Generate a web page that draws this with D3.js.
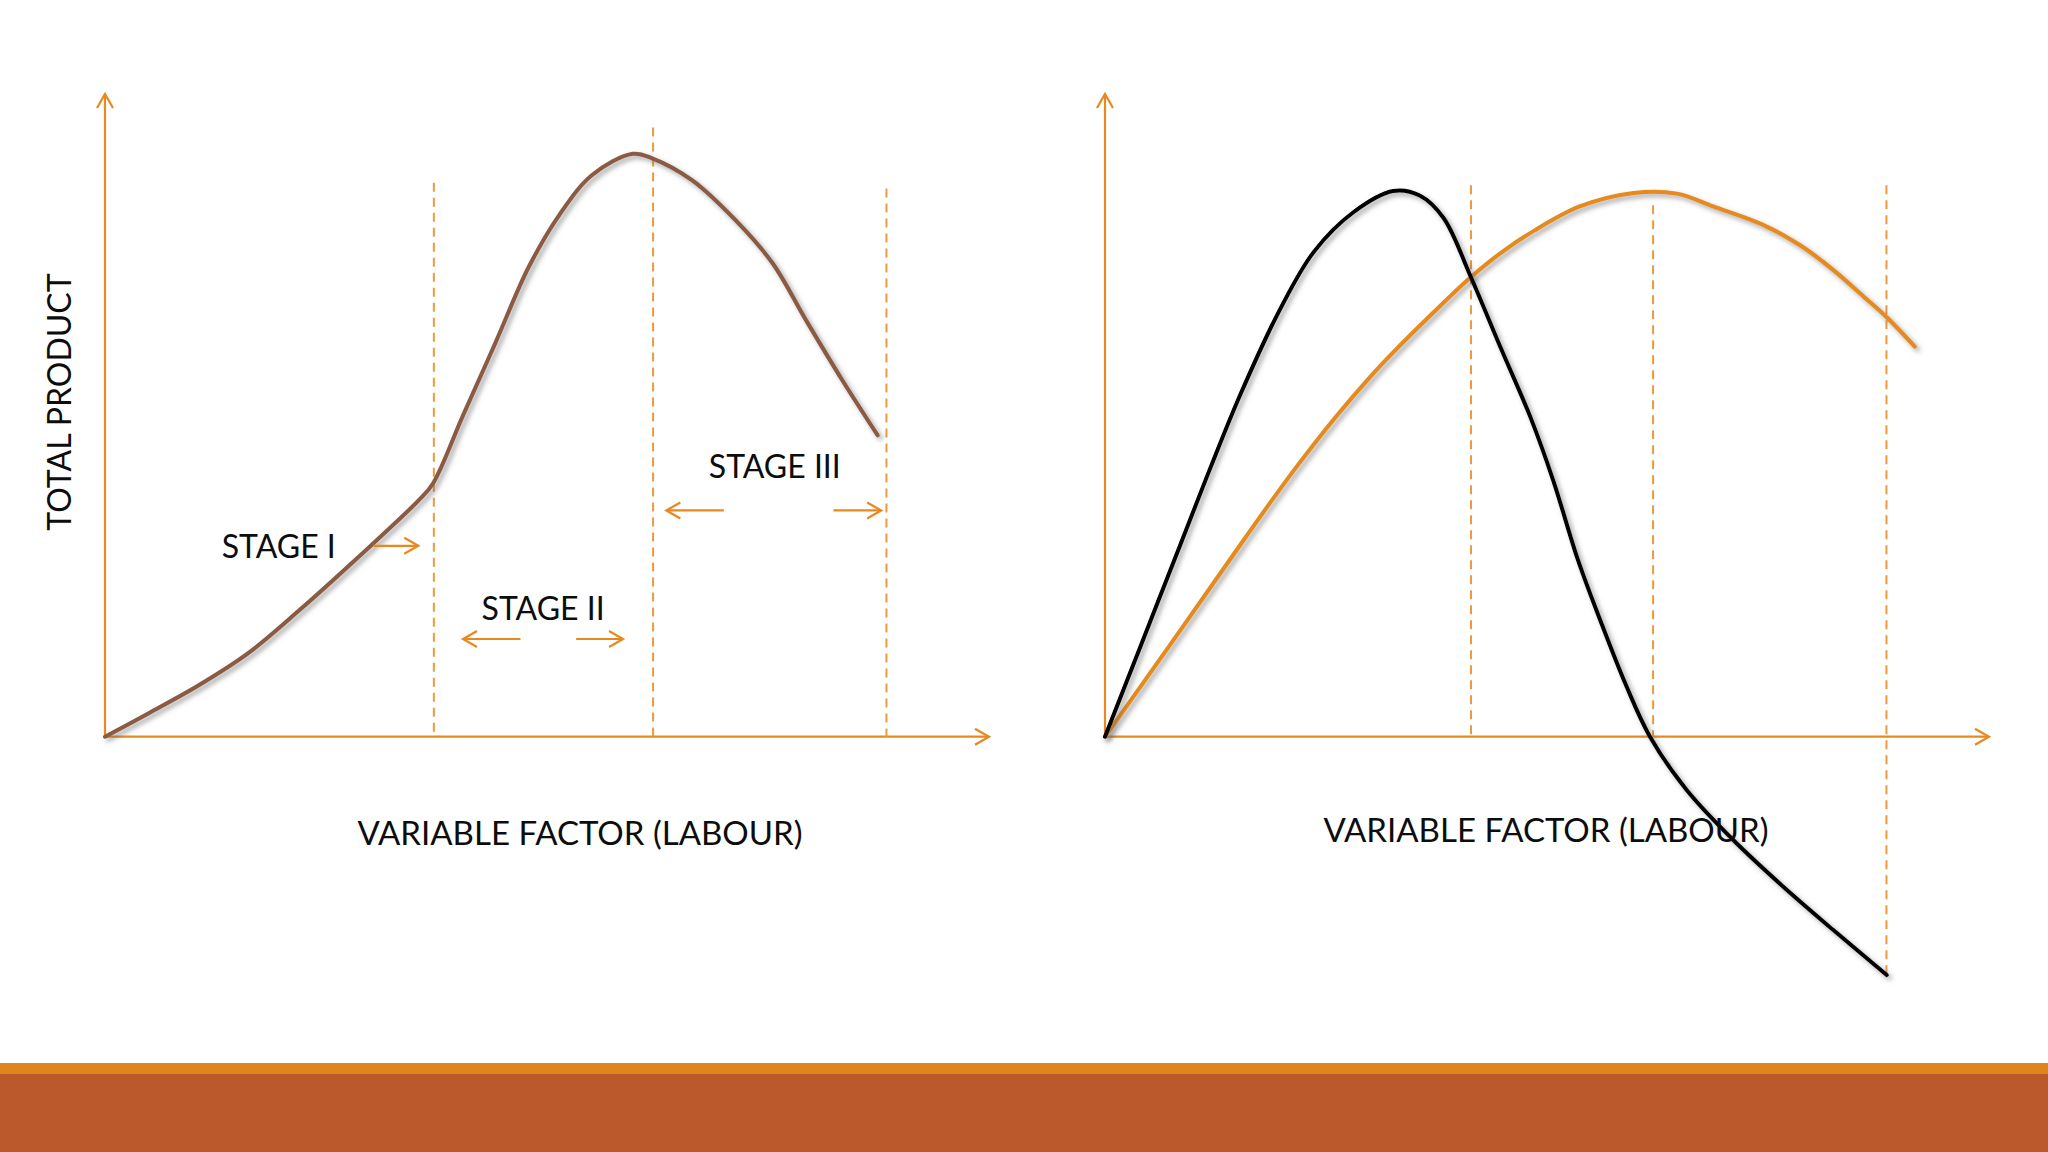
<!DOCTYPE html>
<html>
<head>
<meta charset="utf-8">
<script src="https://cdn.jsdelivr.net/npm/d3@7"></script>
<style>
  body { margin: 0; background: #fff; }
  text { font-family: Lato, "Open Sans", sans-serif; fill: #0d0d0d; }
</style>
</head>
<body>
<div class="canvas"></div>
<script>
// chart values (x = labour, y = product, both 0..100)
var tpX = [0, 5.0, 10.6, 16.2, 22.0, 28.7, 35.5, 37.1, 40.5, 44.2, 47.9, 51.4, 55.1, 59.7, 61.9, 66.4, 71.3, 75.5, 79.3, 83.3, 87.4];
var tpY = [0, 3.7, 8.0, 13.0, 19.7, 28.0, 36.8, 39.4, 50.0, 61.4, 73.0, 81.2, 87.4, 90.7, 90.0, 86.6, 80.4, 73.7, 64.8, 55.7, 46.9];

var mpX = [0, 4, 8.5, 12, 15.3, 19.8, 23.6, 28.1, 32.6, 35.6, 38.3, 41.3, 44.7, 48.1, 50.7, 53.5, 56.0, 59.0, 61.65, 65.8, 71.07, 76.73, 82.39, 88.43];
var mpY = [0, 14.0, 29.8, 42.1, 53.2, 66.5, 75.4, 81.6, 84.9, 84.2, 80.7, 71.8, 60.7, 49.8, 39.9, 27.5, 18.2, 7.8, 0, -8.29, -16.07, -23.34, -30.08, -37.08];

var apX = [0, 7, 14, 18, 22, 26, 30, 32.6, 37, 41.3, 44.7, 48.5, 53.7, 59.8, 64.7, 68.8, 74.5, 78.6, 82.4, 85.8, 88.4, 91.6];
var apY = [0, 13.6, 27.3, 35.1, 42.6, 49.6, 56.0, 59.8, 65.8, 71.4, 75.2, 78.7, 82.5, 84.6, 84.5, 82.5, 79.6, 76.5, 72.6, 68.5, 65.3, 60.7];

// stage boundaries (dashed lines)
var leftDashX = [37.2, 62.0, 88.4];
var leftDashTop = [86.2, 94.8, 85.3];
var rightDashX = [41.4, 62.0, 88.4];
var rightDashTop = [85.8, 82.7, 85.8];
var rightDashBottom = [0, 0, -37.1];

// stage labels and their arrows
var stageLabels = ["STAGE I", "STAGE II", "STAGE III"];
var stageLabelX = [13.2, 42.6, 68.3];
var stageLabelY = [27.8, 18.2, 40.3];
var stageArrows = [
  [30.35, 35.44, 29.7],
  [47.0, 40.5, 15.2], [53.3, 58.6, 15.2],
  [70.0, 63.5, 35.2], [82.4, 87.8, 35.2]
];

var yTitle = "TOTAL PRODUCT";
var xTitle = "VARIABLE FACTOR (LABOUR)";

var W = 2048, H = 1152;
var orange = "#e8891f";

var svg = d3.select('.canvas').append('svg')
    .attr('width', W)
    .attr('height', H);

var defs = svg.append('defs');
defs.append('marker')
    .attr('id', 'chev')
    .attr('markerUnits', 'userSpaceOnUse')
    .attr('viewBox', '-1 -10 18 20')
    .attr('markerWidth', 18).attr('markerHeight', 20)
    .attr('refX', 14).attr('refY', 0)
    .attr('orient', 'auto')
    .append('path')
    .attr('d', 'M0,-8L14,0L0,8')
    .attr('fill', 'none')
    .attr('stroke', orange)
    .attr('stroke-width', 2.2);

defs.append('filter')
    .attr('id', 'shadow')
    .attr('x', '-10%').attr('y', '-10%').attr('width', '120%').attr('height', '120%')
    .append('feDropShadow')
    .attr('dx', 3).attr('dy', 3)
    .attr('stdDeviation', 2.5)
    .attr('flood-color', '#666')
    .attr('flood-opacity', 0.6);

// scales: one per panel horizontally, shared vertical
var xL = d3.scaleLinear().domain([0, 100]).range([105, 989]);
var xR = d3.scaleLinear().domain([0, 100]).range([1105, 1989]);
var y = d3.scaleLinear().domain([0, 100]).range([736.7, 94]);

function zip(xs, ys) {
    return xs.map(function(d, i) { return [d, ys[i]]; });
}

function drawAxes(x) {
    svg.append('line')
        .attr('x1', x(0)).attr('y1', y(0))
        .attr('x2', x(100)).attr('y2', y(0))
        .attr('stroke', orange).attr('stroke-width', 2.2)
        .attr('marker-end', 'url(#chev)');
    svg.append('line')
        .attr('x1', x(0)).attr('y1', y(0))
        .attr('x2', x(0)).attr('y2', y(100))
        .attr('stroke', orange).attr('stroke-width', 2.2)
        .attr('marker-end', 'url(#chev)');
}

function drawDashes(x, xs, tops, bottoms) {
    svg.selectAll(null)
        .data(xs)
        .enter().append('line')
        .attr('x1', function(d) { return x(d); })
        .attr('x2', function(d) { return x(d); })
        .attr('y1', function(d, i) { return y(tops[i]); })
        .attr('y2', function(d, i) { return y(bottoms ? bottoms[i] : 0); })
        .attr('stroke', '#ec9a3c')
        .attr('stroke-width', 2)
        .attr('stroke-dasharray', '9,6');
}

function drawCurve(x, pts, color) {
    var line = d3.line()
        .x(function(d) { return x(d[0]); })
        .y(function(d) { return y(d[1]); })
        .curve(d3.curveCatmullRom.alpha(0.5));
    svg.append('path')
        .attr('d', line(pts))
        .attr('fill', 'none')
        .attr('stroke', color)
        .attr('stroke-width', 4)
        .attr('stroke-linecap', 'round')
        .attr('stroke-linejoin', 'round')
        .attr('filter', 'url(#shadow)');
}

// left panel: total product with stages
drawAxes(xL);
drawDashes(xL, leftDashX, leftDashTop);
drawCurve(xL, zip(tpX, tpY), '#8a5a42');

svg.selectAll(null)
    .data(stageArrows)
    .enter().append('line')
    .attr('x1', function(d) { return xL(d[0]); })
    .attr('x2', function(d) { return xL(d[1]); })
    .attr('y1', function(d) { return y(d[2]); })
    .attr('y2', function(d) { return y(d[2]); })
    .attr('stroke', orange)
    .attr('stroke-width', 2.2)
    .attr('marker-end', 'url(#chev)');

svg.selectAll(null)
    .data(stageLabels)
    .enter().append('text')
    .attr('x', function(d, i) { return xL(stageLabelX[i]); })
    .attr('y', function(d, i) { return y(stageLabelY[i]); })
    .attr('font-size', 32)
    .text(function(d) { return d; });

svg.append('text')
    .attr('transform', 'translate(71,402) rotate(-90)')
    .attr('text-anchor', 'middle')
    .attr('font-size', 32)
    .text(yTitle);

svg.append('text')
    .attr('x', (xL(0) + xL(100)) / 2 + 33)
    .attr('y', 845)
    .attr('text-anchor', 'middle')
    .attr('font-size', 33)
    .text(xTitle);

// right panel: marginal and average product
drawAxes(xR);
drawDashes(xR, rightDashX, rightDashTop, rightDashBottom);
drawCurve(xR, zip(apX, apY), '#e58a1c');
drawCurve(xR, zip(mpX, mpY), '#000');

svg.append('text')
    .attr('x', (xR(0) + xR(100)) / 2 - 1)
    .attr('y', 842)
    .attr('text-anchor', 'middle')
    .attr('font-size', 33)
    .text(xTitle);

// footer band
svg.append('rect')
    .attr('x', 0).attr('y', 1063)
    .attr('width', W).attr('height', 11)
    .attr('fill', '#e0851a');
svg.append('rect')
    .attr('x', 0).attr('y', 1074)
    .attr('width', W).attr('height', 78)
    .attr('fill', '#bb582c');
</script>
</body>
</html>
